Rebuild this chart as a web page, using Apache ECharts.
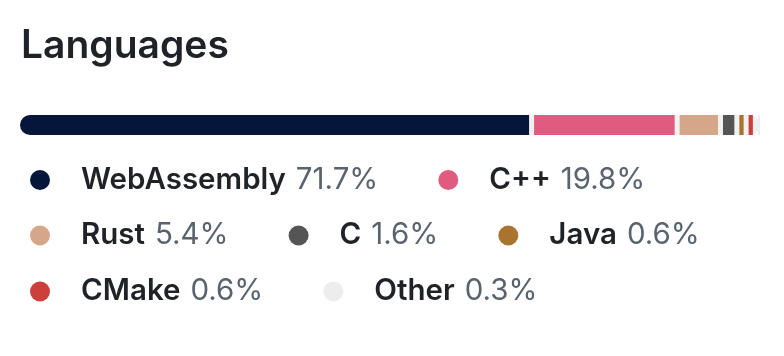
<!DOCTYPE html>
<html>
<head>
<meta charset="utf-8">
<script src="https://cdn.jsdelivr.net/npm/echarts@6/dist/echarts.min.js"></script>
<style>
  html, body { margin: 0; padding: 0; background: #ffffff; }
  #chart { width: 784px; height: 356px; }
</style>
</head>
<body>
<div id="chart"></div>
<script>
// ---- data ----
const languages = ['WebAssembly', 'C++', 'Rust', 'C', 'Java', 'CMake', 'Other'];
const percents = [71.7, 19.8, 5.4, 1.6, 0.6, 0.6, 0.3];
const colors = ['#06163a', '#e15b80', '#d6a688', '#555555', '#a97430', '#cc3f3a', '#ededed'];
const legendRows = [['WebAssembly', 'C++'], ['Rust', 'C', 'Java'], ['CMake', 'Other']];

// ---- style ----
const FONT = 'Inter, "Noto Sans", sans-serif';
const GAP = 5;          // pixel gap between bar segments
const RADIUS = 10;
const TRACK = '#eff1f3';
const LEG_FS = 29.5;

const chart = echarts.init(document.getElementById('chart'), null, { renderer: 'canvas' });

const n = languages.length;
let cum = 0;
const starts = percents.map(v => { const s = cum; cum += v; return s; });

function segRender(params, api) {
  const start = api.value(0);
  const val = api.value(1);
  const idx = api.value(2);
  const p0 = api.coord([start, 0]);
  const p1 = api.coord([start + val, 0]);
  const band = api.size([0, 1])[1];
  const x = p0[0] + idx * GAP;
  const w = p1[0] - p0[0];
  let r = 0;
  if (idx === 0) r = [RADIUS, 0, 0, RADIUS];
  return {
    type: 'rect',
    shape: { x: x, y: p0[1] - band / 2, width: w, height: band, r: r },
    style: { fill: api.visual('color') }
  };
}

function trackRender(params, api) {
  const p0 = api.coord([api.value(0), 0]);
  const p1 = api.coord([api.value(1), 0]);
  const band = api.size([0, 1])[1];
  return {
    type: 'rect',
    shape: { x: p0[0], y: p0[1] - band / 2, width: p1[0] - p0[0] + (n - 1) * GAP, height: band, r: RADIUS },
    style: { fill: TRACK }
  };
}

const series = [{
  name: '__track',
  type: 'custom',
  renderItem: trackRender,
  data: [[0, cum]],
  z: 1,
  silent: true
}];
languages.forEach((name, i) => {
  series.push({
    name: name,
    type: 'custom',
    renderItem: segRender,
    itemStyle: { color: colors[i] },
    data: [[starts[i], percents[i], i]],
    z: 2,
    silent: true
  });
});

const rowCenters = [179, 234.5, 290.5];
const legends = legendRows.map((row, r) => ({
  data: row,
  left: 30,
  top: rowCenters[r] - 14,
  padding: 0,
  orient: 'horizontal',
  icon: 'circle',
  itemWidth: 20,
  itemHeight: 20,
  itemGap: 60,
  selectedMode: false,
  formatter: name => '{n|' + name + '}{p|' + percents[languages.indexOf(name)].toFixed(1) + '%}',
  textStyle: {
    rich: {
      n: { fontFamily: FONT, fontWeight: 600, fontSize: LEG_FS, color: '#1f2328', padding: [0, 0, 0, 26] },
      p: { fontFamily: FONT, fontWeight: 400, fontSize: LEG_FS, color: '#59636e', padding: [0, 0, 0, 10] }
    }
  }
}));

chart.setOption({
  animation: false,
  backgroundColor: '#ffffff',
  title: {
    text: 'Languages',
    left: 21,
    top: 27,
    padding: 0,
    textStyle: { fontFamily: FONT, fontWeight: 600, fontSize: 39, color: '#1f2328' }
  },
  legend: legends,
  grid: { left: 20, top: 115, width: 710, height: 20, containLabel: false },
  xAxis: { type: 'value', min: 0, max: 100, show: false },
  yAxis: { type: 'category', data: ['Languages'], show: false },
  series: series
});
</script>
</body>
</html>
